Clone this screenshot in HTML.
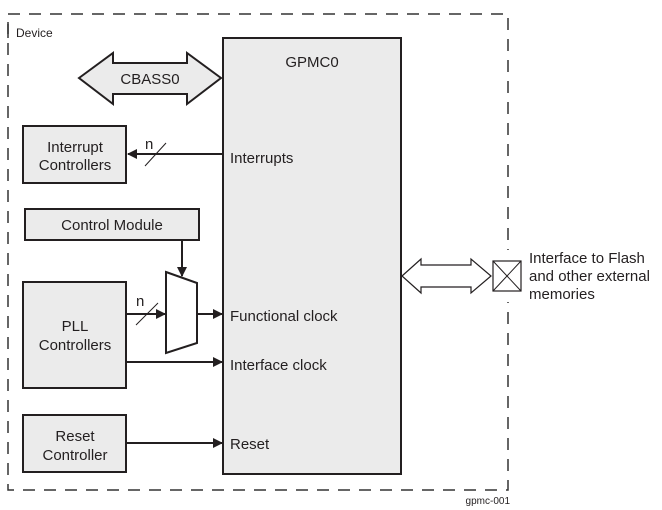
<!DOCTYPE html>
<html><head><style>
html,body{margin:0;padding:0;background:#fff;}
svg{display:block;}
text{font-family:"Liberation Sans",Arial,sans-serif;fill:#231f20;}
</style></head><body>
<svg width="662" height="510" viewBox="0 0 662 510" xmlns="http://www.w3.org/2000/svg">
<defs>
<marker id="ah" markerWidth="10" markerHeight="10" refX="9" refY="5" orient="auto" markerUnits="userSpaceOnUse">
<path d="M0,0 L10,5 L0,10 z" fill="#231f20"/></marker>
</defs>
<!-- dashed device border -->
<rect x="8" y="14" width="500" height="476" fill="none" stroke="#333" stroke-width="1.5" stroke-dasharray="12,9"/>
<rect x="10" y="22" width="50" height="16" fill="#fff"/>
<line x1="8" y1="24" x2="8" y2="38" stroke="#333" stroke-width="1.5"/>
<text x="16" y="37" font-size="12">Device</text>
<!-- GPMC0 -->
<rect x="223" y="38" width="178" height="436" fill="#ebebeb" stroke="#231f20" stroke-width="2"/>
<text x="312" y="67" font-size="15" text-anchor="middle">GPMC0</text>
<text x="230" y="163" font-size="15">Interrupts</text>
<text x="230" y="321" font-size="15">Functional clock</text>
<text x="230" y="370" font-size="15">Interface clock</text>
<text x="230" y="449" font-size="15">Reset</text>
<!-- CBASS0 -->
<path d="M79,78 L113,53 L113,63 L187,63 L187,53 L221,78 L187,104 L187,94 L113,94 L113,104 Z" fill="#ebebeb" stroke="#231f20" stroke-width="2"/>
<text x="150" y="84" font-size="15" text-anchor="middle">CBASS0</text>
<!-- Interrupt controllers -->
<rect x="23" y="126" width="103" height="57" fill="#ebebeb" stroke="#231f20" stroke-width="2"/>
<text x="75" y="152" font-size="15" text-anchor="middle">Interrupt</text>
<text x="75" y="170" font-size="15" text-anchor="middle">Controllers</text>
<line x1="223" y1="154" x2="128" y2="154" stroke="#231f20" stroke-width="2" marker-end="url(#ah)"/>
<line x1="145" y1="166" x2="166" y2="143" stroke="#231f20" stroke-width="1"/>
<text x="145" y="149" font-size="15">n</text>
<!-- Control module -->
<rect x="25" y="209" width="174" height="31" fill="#ebebeb" stroke="#231f20" stroke-width="2"/>
<text x="112" y="230" font-size="15" text-anchor="middle">Control Module</text>
<line x1="182" y1="240" x2="182" y2="276" stroke="#231f20" stroke-width="2" marker-end="url(#ah)"/>
<!-- mux -->
<path d="M166,272 L197,283 L197,343 L166,353 Z" fill="#fff" stroke="#231f20" stroke-width="2"/>
<!-- PLL -->
<rect x="23" y="282" width="103" height="106" fill="#ebebeb" stroke="#231f20" stroke-width="2"/>
<text x="75" y="331" font-size="15" text-anchor="middle">PLL</text>
<text x="75" y="350" font-size="15" text-anchor="middle">Controllers</text>
<line x1="126" y1="314" x2="165" y2="314" stroke="#231f20" stroke-width="2" marker-end="url(#ah)"/>
<line x1="136" y1="325" x2="158" y2="303" stroke="#231f20" stroke-width="1"/>
<text x="136" y="306" font-size="15">n</text>
<line x1="197" y1="314" x2="222" y2="314" stroke="#231f20" stroke-width="2" marker-end="url(#ah)"/>
<line x1="126" y1="362" x2="222" y2="362" stroke="#231f20" stroke-width="2" marker-end="url(#ah)"/>
<!-- Reset -->
<rect x="23" y="415" width="103" height="57" fill="#ebebeb" stroke="#231f20" stroke-width="2"/>
<text x="75" y="441" font-size="15" text-anchor="middle">Reset</text>
<text x="75" y="460" font-size="15" text-anchor="middle">Controller</text>
<line x1="126" y1="443" x2="222" y2="443" stroke="#231f20" stroke-width="2" marker-end="url(#ah)"/>
<!-- right hollow arrow -->
<rect x="500" y="250" width="16" height="52" fill="#fff"/>
<path d="M402,276 L421,259 L421,265 L471,265 L471,259 L491,276 L471,293 L471,287 L421,287 L421,293 Z" fill="#fff" stroke="#231f20" stroke-width="1.2"/>
<rect x="493" y="261" width="28" height="30" fill="#fff" stroke="#231f20" stroke-width="1.2"/>
<line x1="493" y1="261" x2="521" y2="291" stroke="#231f20" stroke-width="1"/>
<line x1="521" y1="261" x2="493" y2="291" stroke="#231f20" stroke-width="1"/>
<text x="529" y="263" font-size="15">Interface to Flash</text>
<text x="529" y="281" font-size="15">and other external</text>
<text x="529" y="299" font-size="15">memories</text>
<text x="510" y="504" font-size="10" text-anchor="end">gpmc-001</text>
</svg>
</body></html>
